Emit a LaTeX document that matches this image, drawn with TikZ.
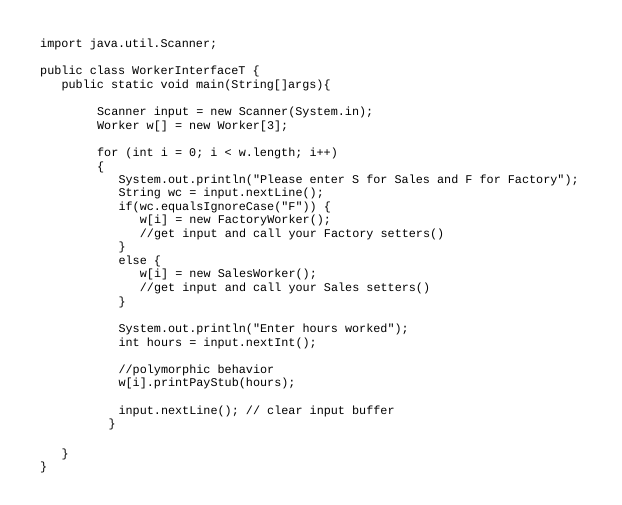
\documentclass[tikz,border=0pt]{standalone}
\usepackage{fontspec}
\newfontfamily\codefont{Liberation Mono}
\begin{document}
\begin{tikzpicture}[x=1pt,y=-1pt,
  codeline/.style={anchor=base west,inner sep=0pt,font=\codefont\fontsize{11.8}{12}\selectfont}]
\useasboundingbox (0,0) rectangle (622,505);
\def\cw{7.12}
\node[codeline] (l1) at (40,48) {import java.util.Scanner;};
\node[codeline] (l2) at (40,75) {public class WorkerInterfaceT \{};
\node[codeline] (l3) at (40+3*\cw,89) {public static void main(String[]args)\{};
\node[codeline] (l4) at (40+8*\cw,116) {Scanner input = new Scanner(System.in);};
\node[codeline] (l5) at (40+8*\cw,130) {Worker w[] = new Worker[3];};
\node[codeline] (l6) at (40+8*\cw,157) {for (int i = 0; i < w.length; i++)};
\node[codeline] (l7) at (40+8*\cw,171) {\{};
\node[codeline] (l8) at (40+11*\cw,184) {System.out.println("Please enter S for Sales and F for Factory");};
\node[codeline] (l9) at (40+11*\cw,197) {String wc = input.nextLine();};
\node[codeline] (l10) at (40+11*\cw,211) {if(wc.equalsIgnoreCase("F")) \{};
\node[codeline] (l11) at (40+14*\cw,224) {w[i] = new FactoryWorker();};
\node[codeline] (l12) at (40+14*\cw,238) {//get input and call your Factory setters()};
\node[codeline] (l13) at (40+11*\cw,251) {\}};
\node[codeline] (l14) at (40+11*\cw,265) {else \{};
\node[codeline] (l15) at (40+14*\cw,278) {w[i] = new SalesWorker();};
\node[codeline] (l16) at (40+14*\cw,292) {//get input and call your Sales setters()};
\node[codeline] (l17) at (40+11*\cw,306) {\}};
\node[codeline] (l18) at (40+11*\cw,333) {System.out.println("Enter hours worked");};
\node[codeline] (l19) at (40+11*\cw,347) {int hours = input.nextInt();};
\node[codeline] (l20) at (40+11*\cw,374) {//polymorphic behavior};
\node[codeline] (l21) at (40+11*\cw,387) {w[i].printPayStub(hours);};
\node[codeline] (l22) at (40+11*\cw,415) {input.nextLine(); // clear input buffer};
\node[codeline] (l23) at (40+9.6*\cw,428) {\}};
\node[codeline] (l24) at (40+3*\cw,457) {\}};
\node[codeline] (l25) at (40,470) {\}};
\end{tikzpicture}
\end{document}
